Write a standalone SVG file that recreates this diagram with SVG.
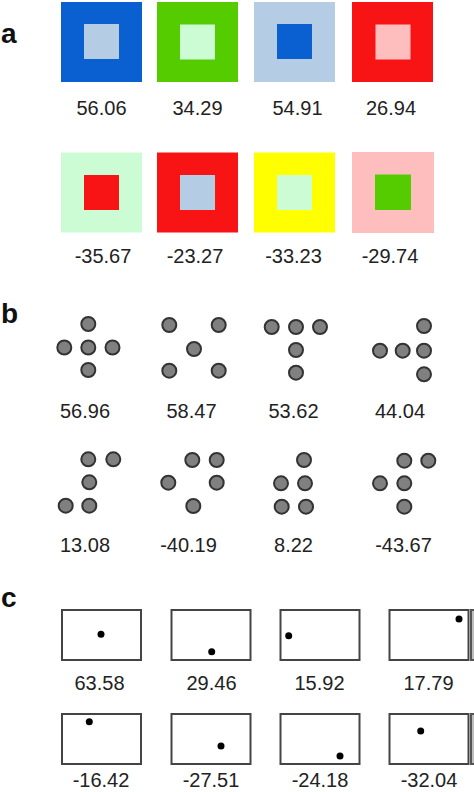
<svg xmlns="http://www.w3.org/2000/svg" width="474" height="792" viewBox="0 0 474 792">
<style>
text{font-family:"Liberation Sans",Arial,sans-serif;fill:#222}
.lbl{font-size:20px;text-anchor:middle}
.pl{font-size:28px;font-weight:bold;fill:#111}
.dot{fill:#808080;stroke:#333;stroke-width:2}
.box{fill:#fff;stroke:#444;stroke-width:2}
.pt{fill:#000}
</style>
<rect width="474" height="792" fill="#fff"/>
<text class="pl" x="1" y="43">a</text>
<text class="pl" x="1" y="323">b</text>
<text class="pl" x="1" y="607">c</text>

<g id="a1"><rect x="61" y="2" width="81" height="80" fill="#0a60d0"/><rect x="84" y="24" width="35" height="35" fill="#b4cde4"/><text class="lbl" x="101.5" y="115">56.06</text></g>
<g id="a2"><rect x="157" y="2" width="81" height="80" fill="#55cc00"/><rect x="180" y="24.5" width="35" height="35" fill="#ccfcd4"/><text class="lbl" x="197.5" y="115">34.29</text></g>
<g id="a3"><rect x="254" y="2" width="81" height="80" fill="#b4cde4"/><rect x="277" y="24" width="35" height="35" fill="#0a60d0"/><text class="lbl" x="297.5" y="115">54.91</text></g>
<g id="a4"><rect x="352" y="2" width="81" height="80" fill="#f81414"/><rect x="375.5" y="24.5" width="35" height="35" fill="#ffbebe"/><text class="lbl" x="391" y="115">26.94</text></g>

<g id="a5"><rect x="61" y="152.5" width="81" height="80" fill="#ccfcd4"/><rect x="84" y="175" width="35" height="35" fill="#f81414"/><text class="lbl" x="103" y="263">-35.67</text></g>
<g id="a6"><rect x="157" y="152.5" width="81" height="80" fill="#f81414"/><rect x="180" y="175" width="35" height="35" fill="#b4cde4"/><text class="lbl" x="195" y="263">-23.27</text></g>
<g id="a7"><rect x="254" y="152.5" width="81" height="80" fill="#ffff00"/><rect x="277" y="175" width="35" height="35" fill="#ccfcd4"/><text class="lbl" x="293.5" y="263">-33.23</text></g>
<g id="a8"><rect x="352" y="152" width="82" height="81" fill="#ffbebe"/><rect x="375" y="174.5" width="36" height="35.5" fill="#55cc00"/><text class="lbl" x="390" y="263">-29.74</text></g>

<g id="b1"><circle class="dot" cx="88.3" cy="324" r="7"/><circle class="dot" cx="64.3" cy="347.5" r="7"/><circle class="dot" cx="88.3" cy="347.5" r="7"/><circle class="dot" cx="112.5" cy="347.5" r="7"/><circle class="dot" cx="88.3" cy="370" r="7"/><text class="lbl" x="85" y="418">56.96</text></g>
<g id="b2"><circle class="dot" cx="169.3" cy="325" r="7"/><circle class="dot" cx="218.7" cy="325" r="7"/><circle class="dot" cx="194" cy="349" r="7"/><circle class="dot" cx="169.3" cy="370.7" r="7"/><circle class="dot" cx="218.7" cy="370.7" r="7"/><text class="lbl" x="191.5" y="418">58.47</text></g>
<g id="b3"><circle class="dot" cx="271.7" cy="327" r="7"/><circle class="dot" cx="296" cy="327" r="7"/><circle class="dot" cx="320" cy="327" r="7"/><circle class="dot" cx="296" cy="350" r="7"/><circle class="dot" cx="296" cy="372.7" r="7"/><text class="lbl" x="293.5" y="418">53.62</text></g>
<g id="b4"><circle class="dot" cx="424" cy="326" r="7"/><circle class="dot" cx="380" cy="350.7" r="7"/><circle class="dot" cx="402.7" cy="350.7" r="7"/><circle class="dot" cx="424" cy="350.7" r="7"/><circle class="dot" cx="424" cy="374.3" r="7"/><text class="lbl" x="400" y="418">44.04</text></g>

<g id="b5"><circle class="dot" cx="88.3" cy="459.3" r="7"/><circle class="dot" cx="113.3" cy="459.3" r="7"/><circle class="dot" cx="89.3" cy="482.3" r="7"/><circle class="dot" cx="65.7" cy="505.7" r="7"/><circle class="dot" cx="89.3" cy="505.7" r="7"/><text class="lbl" x="85" y="551.5">13.08</text></g>
<g id="b6"><circle class="dot" cx="192.3" cy="460" r="7"/><circle class="dot" cx="216.7" cy="460" r="7"/><circle class="dot" cx="168.3" cy="482.7" r="7"/><circle class="dot" cx="216.7" cy="482.7" r="7"/><circle class="dot" cx="193.3" cy="506" r="7"/><text class="lbl" x="188.5" y="551.5">-40.19</text></g>
<g id="b7"><circle class="dot" cx="304" cy="460" r="7"/><circle class="dot" cx="281" cy="483.3" r="7"/><circle class="dot" cx="305" cy="483.3" r="7"/><circle class="dot" cx="281.7" cy="506.7" r="7"/><circle class="dot" cx="306" cy="506.7" r="7"/><text class="lbl" x="293.5" y="551.5">8.22</text></g>
<g id="b8"><circle class="dot" cx="404.3" cy="460.7" r="7"/><circle class="dot" cx="428.3" cy="460.7" r="7"/><circle class="dot" cx="380" cy="483.3" r="7"/><circle class="dot" cx="404.3" cy="483.3" r="7"/><circle class="dot" cx="404.3" cy="506.7" r="7"/><text class="lbl" x="403.5" y="551.5">-43.67</text></g>

<g id="c1"><rect class="box" x="62" y="610" width="79" height="50"/><circle class="pt" cx="101" cy="634.3" r="3.5"/><text class="lbl" x="99.5" y="690">63.58</text></g>
<g id="c2"><rect class="box" x="171.5" y="610" width="79" height="50"/><circle class="pt" cx="211.7" cy="651.7" r="3.5"/><text class="lbl" x="211.5" y="690">29.46</text></g>
<g id="c3"><rect class="box" x="280.5" y="610" width="79" height="50"/><circle class="pt" cx="288.7" cy="635.7" r="3.5"/><text class="lbl" x="319.5" y="690">15.92</text></g>
<g id="c4"><rect class="box" x="389.5" y="610" width="79" height="50"/><circle class="pt" cx="459" cy="619" r="3.5"/><text class="lbl" x="428.5" y="690">17.79</text></g>
<g id="c9"><rect x="471" y="610" width="12" height="50" fill="#bdbdbd" stroke="#555" stroke-width="2"/></g>

<g id="c5"><rect class="box" x="62" y="714" width="79" height="50"/><circle class="pt" cx="89.3" cy="721.7" r="3.5"/><text class="lbl" x="101" y="787">-16.42</text></g>
<g id="c6"><rect class="box" x="171.5" y="714" width="79" height="50"/><circle class="pt" cx="221" cy="746" r="3.5"/><text class="lbl" x="211" y="787">-27.51</text></g>
<g id="c7"><rect class="box" x="280.5" y="714" width="79" height="50"/><circle class="pt" cx="340" cy="756" r="3.5"/><text class="lbl" x="320" y="787">-24.18</text></g>
<g id="c8"><rect class="box" x="389.5" y="714" width="79" height="50"/><circle class="pt" cx="420.7" cy="731" r="3.5"/><text class="lbl" x="429" y="787">-32.04</text></g>
<g id="c10"><rect x="471" y="714" width="12" height="50" fill="#bdbdbd" stroke="#555" stroke-width="2"/></g>
<g id="connectors"></g>
</svg>
